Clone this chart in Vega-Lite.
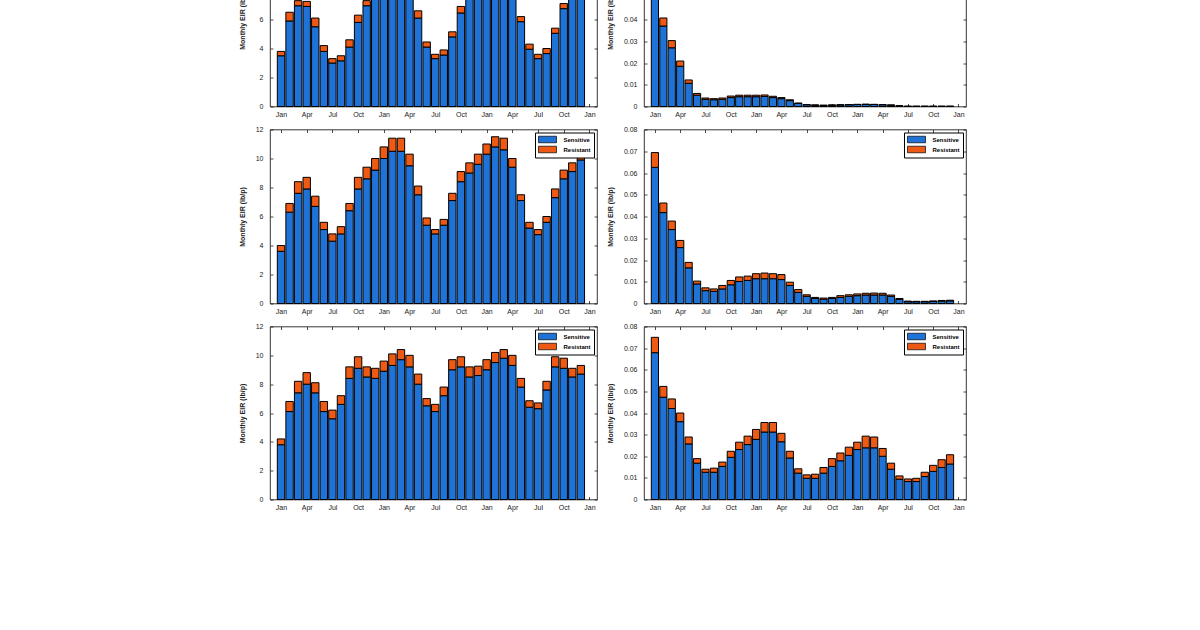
{
  "$schema": "https://vega.github.io/schema/vega-lite/v6.json",
  "background": "white",
  "padding": {"left": 237, "top": -72.5, "right": 0, "bottom": 0},
  "datasets": {
    "eir": [
      {"p":"L1","m":1,"Sensitive":3.5,"Resistant":0.3},{"p":"L1","m":2,"Sensitive":5.9,"Resistant":0.6},{"p":"L1","m":3,"Sensitive":6.95,"Resistant":0.35},{"p":"L1","m":4,"Sensitive":6.9,"Resistant":0.35},{"p":"L1","m":5,"Sensitive":5.5,"Resistant":0.6},{"p":"L1","m":6,"Sensitive":3.8,"Resistant":0.4},{"p":"L1","m":7,"Sensitive":3.0,"Resistant":0.3},{"p":"L1","m":8,"Sensitive":3.15,"Resistant":0.35},{"p":"L1","m":9,"Sensitive":4.1,"Resistant":0.5},{"p":"L1","m":10,"Sensitive":5.8,"Resistant":0.5},{"p":"L1","m":11,"Sensitive":6.95,"Resistant":0.35},{"p":"L1","m":12,"Sensitive":7.7,"Resistant":0.5},{"p":"L1","m":13,"Sensitive":8.4,"Resistant":0.6},{"p":"L1","m":14,"Sensitive":8.9,"Resistant":0.6},{"p":"L1","m":15,"Sensitive":9.0,"Resistant":0.6},{"p":"L1","m":16,"Sensitive":7.5,"Resistant":0.5},{"p":"L1","m":17,"Sensitive":6.1,"Resistant":0.5},{"p":"L1","m":18,"Sensitive":4.1,"Resistant":0.35},{"p":"L1","m":19,"Sensitive":3.3,"Resistant":0.3},{"p":"L1","m":20,"Sensitive":3.55,"Resistant":0.35},{"p":"L1","m":21,"Sensitive":4.8,"Resistant":0.35},{"p":"L1","m":22,"Sensitive":6.45,"Resistant":0.45},{"p":"L1","m":23,"Sensitive":7.5,"Resistant":0.5},{"p":"L1","m":24,"Sensitive":8.3,"Resistant":0.5},{"p":"L1","m":25,"Sensitive":8.8,"Resistant":0.6},{"p":"L1","m":26,"Sensitive":9.2,"Resistant":0.6},{"p":"L1","m":27,"Sensitive":9.1,"Resistant":0.6},{"p":"L1","m":28,"Sensitive":7.8,"Resistant":0.5},{"p":"L1","m":29,"Sensitive":5.85,"Resistant":0.35},{"p":"L1","m":30,"Sensitive":3.95,"Resistant":0.35},{"p":"L1","m":31,"Sensitive":3.3,"Resistant":0.3},{"p":"L1","m":32,"Sensitive":3.65,"Resistant":0.35},{"p":"L1","m":33,"Sensitive":5.05,"Resistant":0.35},{"p":"L1","m":34,"Sensitive":6.75,"Resistant":0.35},{"p":"L1","m":35,"Sensitive":7.8,"Resistant":0.4},{"p":"L1","m":36,"Sensitive":8.6,"Resistant":0.4},
      {"p":"L2","m":1,"Sensitive":3.6,"Resistant":0.4},{"p":"L2","m":2,"Sensitive":6.3,"Resistant":0.6},{"p":"L2","m":3,"Sensitive":7.6,"Resistant":0.8},{"p":"L2","m":4,"Sensitive":7.9,"Resistant":0.8},{"p":"L2","m":5,"Sensitive":6.7,"Resistant":0.7},{"p":"L2","m":6,"Sensitive":5.1,"Resistant":0.5},{"p":"L2","m":7,"Sensitive":4.3,"Resistant":0.5},{"p":"L2","m":8,"Sensitive":4.8,"Resistant":0.5},{"p":"L2","m":9,"Sensitive":6.4,"Resistant":0.5},{"p":"L2","m":10,"Sensitive":7.9,"Resistant":0.8},{"p":"L2","m":11,"Sensitive":8.6,"Resistant":0.8},{"p":"L2","m":12,"Sensitive":9.2,"Resistant":0.8},{"p":"L2","m":13,"Sensitive":10.0,"Resistant":0.8},{"p":"L2","m":14,"Sensitive":10.5,"Resistant":0.9},{"p":"L2","m":15,"Sensitive":10.5,"Resistant":0.9},{"p":"L2","m":16,"Sensitive":9.5,"Resistant":0.8},{"p":"L2","m":17,"Sensitive":7.5,"Resistant":0.6},{"p":"L2","m":18,"Sensitive":5.4,"Resistant":0.5},{"p":"L2","m":19,"Sensitive":4.8,"Resistant":0.3},{"p":"L2","m":20,"Sensitive":5.4,"Resistant":0.4},{"p":"L2","m":21,"Sensitive":7.1,"Resistant":0.5},{"p":"L2","m":22,"Sensitive":8.4,"Resistant":0.7},{"p":"L2","m":23,"Sensitive":9.0,"Resistant":0.7},{"p":"L2","m":24,"Sensitive":9.6,"Resistant":0.7},{"p":"L2","m":25,"Sensitive":10.3,"Resistant":0.7},{"p":"L2","m":26,"Sensitive":10.8,"Resistant":0.7},{"p":"L2","m":27,"Sensitive":10.6,"Resistant":0.8},{"p":"L2","m":28,"Sensitive":9.4,"Resistant":0.6},{"p":"L2","m":29,"Sensitive":7.1,"Resistant":0.4},{"p":"L2","m":30,"Sensitive":5.2,"Resistant":0.4},{"p":"L2","m":31,"Sensitive":4.75,"Resistant":0.35},{"p":"L2","m":32,"Sensitive":5.6,"Resistant":0.4},{"p":"L2","m":33,"Sensitive":7.3,"Resistant":0.6},{"p":"L2","m":34,"Sensitive":8.6,"Resistant":0.6},{"p":"L2","m":35,"Sensitive":9.1,"Resistant":0.6},{"p":"L2","m":36,"Sensitive":9.9,"Resistant":0.3},
      {"p":"L3","m":1,"Sensitive":3.8,"Resistant":0.4},{"p":"L3","m":2,"Sensitive":6.1,"Resistant":0.7},{"p":"L3","m":3,"Sensitive":7.4,"Resistant":0.8},{"p":"L3","m":4,"Sensitive":8.0,"Resistant":0.8},{"p":"L3","m":5,"Sensitive":7.4,"Resistant":0.7},{"p":"L3","m":6,"Sensitive":6.1,"Resistant":0.7},{"p":"L3","m":7,"Sensitive":5.6,"Resistant":0.6},{"p":"L3","m":8,"Sensitive":6.6,"Resistant":0.6},{"p":"L3","m":9,"Sensitive":8.4,"Resistant":0.8},{"p":"L3","m":10,"Sensitive":9.1,"Resistant":0.8},{"p":"L3","m":11,"Sensitive":8.5,"Resistant":0.7},{"p":"L3","m":12,"Sensitive":8.4,"Resistant":0.7},{"p":"L3","m":13,"Sensitive":8.9,"Resistant":0.7},{"p":"L3","m":14,"Sensitive":9.3,"Resistant":0.8},{"p":"L3","m":15,"Sensitive":9.7,"Resistant":0.7},{"p":"L3","m":16,"Sensitive":9.2,"Resistant":0.8},{"p":"L3","m":17,"Sensitive":8.0,"Resistant":0.7},{"p":"L3","m":18,"Sensitive":6.5,"Resistant":0.5},{"p":"L3","m":19,"Sensitive":6.1,"Resistant":0.5},{"p":"L3","m":20,"Sensitive":7.2,"Resistant":0.6},{"p":"L3","m":21,"Sensitive":9.0,"Resistant":0.7},{"p":"L3","m":22,"Sensitive":9.2,"Resistant":0.7},{"p":"L3","m":23,"Sensitive":8.5,"Resistant":0.7},{"p":"L3","m":24,"Sensitive":8.6,"Resistant":0.65},{"p":"L3","m":25,"Sensitive":9.0,"Resistant":0.7},{"p":"L3","m":26,"Sensitive":9.5,"Resistant":0.7},{"p":"L3","m":27,"Sensitive":9.8,"Resistant":0.6},{"p":"L3","m":28,"Sensitive":9.3,"Resistant":0.7},{"p":"L3","m":29,"Sensitive":7.8,"Resistant":0.6},{"p":"L3","m":30,"Sensitive":6.4,"Resistant":0.45},{"p":"L3","m":31,"Sensitive":6.3,"Resistant":0.4},{"p":"L3","m":32,"Sensitive":7.6,"Resistant":0.6},{"p":"L3","m":33,"Sensitive":9.2,"Resistant":0.7},{"p":"L3","m":34,"Sensitive":9.1,"Resistant":0.7},{"p":"L3","m":35,"Sensitive":8.5,"Resistant":0.6},{"p":"L3","m":36,"Sensitive":8.7,"Resistant":0.6},
      {"p":"R1","m":1,"Sensitive":0.057,"Resistant":0.006},{"p":"R1","m":2,"Sensitive":0.037,"Resistant":0.0037},{"p":"R1","m":3,"Sensitive":0.027,"Resistant":0.0033},{"p":"R1","m":4,"Sensitive":0.0185,"Resistant":0.0024},{"p":"R1","m":5,"Sensitive":0.0107,"Resistant":0.0015},{"p":"R1","m":6,"Sensitive":0.0052,"Resistant":0.0008},{"p":"R1","m":7,"Sensitive":0.0033,"Resistant":0.0006},{"p":"R1","m":8,"Sensitive":0.0031,"Resistant":0.0005},{"p":"R1","m":9,"Sensitive":0.0033,"Resistant":0.0006},{"p":"R1","m":10,"Sensitive":0.0041,"Resistant":0.0007},{"p":"R1","m":11,"Sensitive":0.0045,"Resistant":0.0007},{"p":"R1","m":12,"Sensitive":0.0045,"Resistant":0.0007},{"p":"R1","m":13,"Sensitive":0.0045,"Resistant":0.0007},{"p":"R1","m":14,"Sensitive":0.0046,"Resistant":0.0007},{"p":"R1","m":15,"Sensitive":0.0041,"Resistant":0.0006},{"p":"R1","m":16,"Sensitive":0.0036,"Resistant":0.0005},{"p":"R1","m":17,"Sensitive":0.0027,"Resistant":0.0004},{"p":"R1","m":18,"Sensitive":0.0014,"Resistant":0.0002},{"p":"R1","m":19,"Sensitive":0.0008,"Resistant":0.0001},{"p":"R1","m":20,"Sensitive":0.0006,"Resistant":0.0001},{"p":"R1","m":21,"Sensitive":0.0005,"Resistant":0.0001},{"p":"R1","m":22,"Sensitive":0.0006,"Resistant":0.0001},{"p":"R1","m":23,"Sensitive":0.0007,"Resistant":0.0001},{"p":"R1","m":24,"Sensitive":0.0008,"Resistant":0.0001},{"p":"R1","m":25,"Sensitive":0.0009,"Resistant":0.0001},{"p":"R1","m":26,"Sensitive":0.0009,"Resistant":0.0002},{"p":"R1","m":27,"Sensitive":0.0009,"Resistant":0.0001},{"p":"R1","m":28,"Sensitive":0.0008,"Resistant":0.0001},{"p":"R1","m":29,"Sensitive":0.0006,"Resistant":0.0001},{"p":"R1","m":30,"Sensitive":0.0003,"Resistant":0.0},{"p":"R1","m":31,"Sensitive":0.0001,"Resistant":0.0},{"p":"R1","m":32,"Sensitive":0.0001,"Resistant":0.0},{"p":"R1","m":33,"Sensitive":0.0001,"Resistant":0.0},{"p":"R1","m":34,"Sensitive":0.0001,"Resistant":0.0},{"p":"R1","m":35,"Sensitive":0.0001,"Resistant":0.0},{"p":"R1","m":36,"Sensitive":0.0001,"Resistant":0.0},
      {"p":"R2","m":1,"Sensitive":0.0626,"Resistant":0.0068},{"p":"R2","m":2,"Sensitive":0.0418,"Resistant":0.0044},{"p":"R2","m":3,"Sensitive":0.034,"Resistant":0.0039},{"p":"R2","m":4,"Sensitive":0.0257,"Resistant":0.0033},{"p":"R2","m":5,"Sensitive":0.0164,"Resistant":0.0025},{"p":"R2","m":6,"Sensitive":0.009,"Resistant":0.0013},{"p":"R2","m":7,"Sensitive":0.0059,"Resistant":0.0013},{"p":"R2","m":8,"Sensitive":0.0056,"Resistant":0.0011},{"p":"R2","m":9,"Sensitive":0.0067,"Resistant":0.0016},{"p":"R2","m":10,"Sensitive":0.0086,"Resistant":0.002},{"p":"R2","m":11,"Sensitive":0.0101,"Resistant":0.0021},{"p":"R2","m":12,"Sensitive":0.0106,"Resistant":0.002},{"p":"R2","m":13,"Sensitive":0.0114,"Resistant":0.0023},{"p":"R2","m":14,"Sensitive":0.0114,"Resistant":0.0026},{"p":"R2","m":15,"Sensitive":0.0114,"Resistant":0.0023},{"p":"R2","m":16,"Sensitive":0.011,"Resistant":0.0023},{"p":"R2","m":17,"Sensitive":0.0083,"Resistant":0.0015},{"p":"R2","m":18,"Sensitive":0.0051,"Resistant":0.0013},{"p":"R2","m":19,"Sensitive":0.0033,"Resistant":0.0007},{"p":"R2","m":20,"Sensitive":0.0023,"Resistant":0.0005},{"p":"R2","m":21,"Sensitive":0.002,"Resistant":0.0005},{"p":"R2","m":22,"Sensitive":0.0023,"Resistant":0.0005},{"p":"R2","m":23,"Sensitive":0.0028,"Resistant":0.0008},{"p":"R2","m":24,"Sensitive":0.0033,"Resistant":0.0007},{"p":"R2","m":25,"Sensitive":0.0036,"Resistant":0.0008},{"p":"R2","m":26,"Sensitive":0.0039,"Resistant":0.0008},{"p":"R2","m":27,"Sensitive":0.0039,"Resistant":0.0009},{"p":"R2","m":28,"Sensitive":0.0039,"Resistant":0.0008},{"p":"R2","m":29,"Sensitive":0.0033,"Resistant":0.0006},{"p":"R2","m":30,"Sensitive":0.0019,"Resistant":0.0004},{"p":"R2","m":31,"Sensitive":0.0008,"Resistant":0.0003},{"p":"R2","m":32,"Sensitive":0.0008,"Resistant":0.0002},{"p":"R2","m":33,"Sensitive":0.0008,"Resistant":0.0002},{"p":"R2","m":34,"Sensitive":0.0009,"Resistant":0.0003},{"p":"R2","m":35,"Sensitive":0.0011,"Resistant":0.0003},{"p":"R2","m":36,"Sensitive":0.0012,"Resistant":0.0003},
      {"p":"R3","m":1,"Sensitive":0.0679,"Resistant":0.0071},{"p":"R3","m":2,"Sensitive":0.0473,"Resistant":0.005},{"p":"R3","m":3,"Sensitive":0.0421,"Resistant":0.0044},{"p":"R3","m":4,"Sensitive":0.036,"Resistant":0.004},{"p":"R3","m":5,"Sensitive":0.0257,"Resistant":0.0032},{"p":"R3","m":6,"Sensitive":0.0168,"Resistant":0.0021},{"p":"R3","m":7,"Sensitive":0.0126,"Resistant":0.0014},{"p":"R3","m":8,"Sensitive":0.0126,"Resistant":0.0019},{"p":"R3","m":9,"Sensitive":0.0153,"Resistant":0.002},{"p":"R3","m":10,"Sensitive":0.0195,"Resistant":0.0028},{"p":"R3","m":11,"Sensitive":0.0231,"Resistant":0.0034},{"p":"R3","m":12,"Sensitive":0.0254,"Resistant":0.0039},{"p":"R3","m":13,"Sensitive":0.0278,"Resistant":0.0046},{"p":"R3","m":14,"Sensitive":0.0312,"Resistant":0.0044},{"p":"R3","m":15,"Sensitive":0.0312,"Resistant":0.0044},{"p":"R3","m":16,"Sensitive":0.0267,"Resistant":0.0039},{"p":"R3","m":17,"Sensitive":0.0192,"Resistant":0.0031},{"p":"R3","m":18,"Sensitive":0.0122,"Resistant":0.002},{"p":"R3","m":19,"Sensitive":0.0098,"Resistant":0.0016},{"p":"R3","m":20,"Sensitive":0.0098,"Resistant":0.0019},{"p":"R3","m":21,"Sensitive":0.0122,"Resistant":0.0026},{"p":"R3","m":22,"Sensitive":0.0153,"Resistant":0.0036},{"p":"R3","m":23,"Sensitive":0.0179,"Resistant":0.0036},{"p":"R3","m":24,"Sensitive":0.0204,"Resistant":0.0038},{"p":"R3","m":25,"Sensitive":0.0231,"Resistant":0.0034},{"p":"R3","m":26,"Sensitive":0.0239,"Resistant":0.0054},{"p":"R3","m":27,"Sensitive":0.0239,"Resistant":0.005},{"p":"R3","m":28,"Sensitive":0.02,"Resistant":0.0036},{"p":"R3","m":29,"Sensitive":0.014,"Resistant":0.0028},{"p":"R3","m":30,"Sensitive":0.0094,"Resistant":0.0015},{"p":"R3","m":31,"Sensitive":0.0083,"Resistant":0.0012},{"p":"R3","m":32,"Sensitive":0.0083,"Resistant":0.0015},{"p":"R3","m":33,"Sensitive":0.0106,"Resistant":0.002},{"p":"R3","m":34,"Sensitive":0.013,"Resistant":0.0028},{"p":"R3","m":35,"Sensitive":0.0148,"Resistant":0.0036},{"p":"R3","m":36,"Sensitive":0.0164,"Resistant":0.0043}
    ]
  },
  "data": {"name": "eir"},
  "bounds": "flush",
  "columns": 2,
  "spacing": {"row": 23, "column": 47},
  "concat": [
    {
      "width": 327, "height": 174,
      "transform": [{"filter": "datum.p == 'L1'"}, {"fold": ["Sensitive", "Resistant"], "as": ["type", "v"]}],
      "layer": [
        {"mark": {"type": "bar", "width": 7.4, "stroke": "black", "strokeWidth": 1},
         "encoding": {
           "x": {"field": "m", "type": "quantitative", "scale": {"domain": [0.3, 37.3], "nice": false, "zero": false}, "axis": {"orient": "bottom", "title": null, "values": [1,4,7,10,13,16,19,22,25,28,31,34,37], "labelExpr": "['Jan','Apr','Jul','Oct'][((datum.value-1)/3)%4]"}},
           "y": {"field": "v", "type": "quantitative", "stack": "zero", "scale": {"domain": [0, 12], "nice": false}, "axis": {"orient": "left", "title": "Monthly EIR (ib/p)", "values": [0,2,4,6,8,10,12]}},
           "color": {"field": "type", "type": "nominal", "scale": {"domain": ["Sensitive", "Resistant"], "range": ["#1f72d6", "#ee5a14"]}, "legend": {"orient": "top-right"}},
           "order": {"field": "type", "sort": "descending"}
         }},
        {"mark": {"type": "point", "opacity": 0},
         "encoding": {
           "x": {"field": "m", "type": "quantitative", "scale": {"domain": [0.3, 37.3], "nice": false, "zero": false}, "axis": {"orient": "top", "title": null, "labels": false, "values": [1,4,7,10,13,16,19,22,25,28,31,34,37]}},
           "y": {"field": "v", "type": "quantitative", "scale": {"domain": [0, 12], "nice": false}, "axis": {"orient": "right", "title": null, "labels": false, "values": [0,2,4,6,8,10,12]}}
         }}
      ],
      "resolve": {"axis": {"x": "independent", "y": "independent"}}
    },
    {
      "width": 322, "height": 174,
      "transform": [{"filter": "datum.p == 'R1'"}, {"fold": ["Sensitive", "Resistant"], "as": ["type", "v"]}],
      "layer": [
        {"mark": {"type": "bar", "width": 7.2, "stroke": "black", "strokeWidth": 1},
         "encoding": {
           "x": {"field": "m", "type": "quantitative", "scale": {"domain": [0.3, 37.3], "nice": false, "zero": false}, "axis": {"orient": "bottom", "title": null, "values": [1,4,7,10,13,16,19,22,25,28,31,34,37], "labelExpr": "['Jan','Apr','Jul','Oct'][((datum.value-1)/3)%4]"}},
           "y": {"field": "v", "type": "quantitative", "stack": "zero", "scale": {"domain": [0, 0.08], "nice": false}, "axis": {"orient": "left", "title": "Monthly EIR (ib/p)", "values": [0,0.01,0.02,0.03,0.04,0.05,0.06,0.07,0.08], "format": "~g"}},
           "color": {"field": "type", "type": "nominal", "scale": {"domain": ["Sensitive", "Resistant"], "range": ["#1f72d6", "#ee5a14"]}, "legend": {"orient": "top-right"}},
           "order": {"field": "type", "sort": "descending"}
         }},
        {"mark": {"type": "point", "opacity": 0},
         "encoding": {
           "x": {"field": "m", "type": "quantitative", "scale": {"domain": [0.3, 37.3], "nice": false, "zero": false}, "axis": {"orient": "top", "title": null, "labels": false, "values": [1,4,7,10,13,16,19,22,25,28,31,34,37]}},
           "y": {"field": "v", "type": "quantitative", "scale": {"domain": [0, 0.08], "nice": false}, "axis": {"orient": "right", "title": null, "labels": false, "values": [0,0.01,0.02,0.03,0.04,0.05,0.06,0.07,0.08]}}
         }}
      ],
      "resolve": {"axis": {"x": "independent", "y": "independent"}}
    },
    {
      "width": 327, "height": 174,
      "transform": [{"filter": "datum.p == 'L2'"}, {"fold": ["Sensitive", "Resistant"], "as": ["type", "v"]}],
      "layer": [
        {"mark": {"type": "bar", "width": 7.4, "stroke": "black", "strokeWidth": 1},
         "encoding": {
           "x": {"field": "m", "type": "quantitative", "scale": {"domain": [0.3, 37.3], "nice": false, "zero": false}, "axis": {"orient": "bottom", "title": null, "values": [1,4,7,10,13,16,19,22,25,28,31,34,37], "labelExpr": "['Jan','Apr','Jul','Oct'][((datum.value-1)/3)%4]"}},
           "y": {"field": "v", "type": "quantitative", "stack": "zero", "scale": {"domain": [0, 12], "nice": false}, "axis": {"orient": "left", "title": "Monthly EIR (ib/p)", "values": [0,2,4,6,8,10,12]}},
           "color": {"field": "type", "type": "nominal", "scale": {"domain": ["Sensitive", "Resistant"], "range": ["#1f72d6", "#ee5a14"]}, "legend": {"orient": "top-right"}},
           "order": {"field": "type", "sort": "descending"}
         }},
        {"mark": {"type": "point", "opacity": 0},
         "encoding": {
           "x": {"field": "m", "type": "quantitative", "scale": {"domain": [0.3, 37.3], "nice": false, "zero": false}, "axis": {"orient": "top", "title": null, "labels": false, "values": [1,4,7,10,13,16,19,22,25,28,31,34,37]}},
           "y": {"field": "v", "type": "quantitative", "scale": {"domain": [0, 12], "nice": false}, "axis": {"orient": "right", "title": null, "labels": false, "values": [0,2,4,6,8,10,12]}}
         }}
      ],
      "resolve": {"axis": {"x": "independent", "y": "independent"}}
    },
    {
      "width": 322, "height": 174,
      "transform": [{"filter": "datum.p == 'R2'"}, {"fold": ["Sensitive", "Resistant"], "as": ["type", "v"]}],
      "layer": [
        {"mark": {"type": "bar", "width": 7.2, "stroke": "black", "strokeWidth": 1},
         "encoding": {
           "x": {"field": "m", "type": "quantitative", "scale": {"domain": [0.3, 37.3], "nice": false, "zero": false}, "axis": {"orient": "bottom", "title": null, "values": [1,4,7,10,13,16,19,22,25,28,31,34,37], "labelExpr": "['Jan','Apr','Jul','Oct'][((datum.value-1)/3)%4]"}},
           "y": {"field": "v", "type": "quantitative", "stack": "zero", "scale": {"domain": [0, 0.08], "nice": false}, "axis": {"orient": "left", "title": "Monthly EIR (ib/p)", "values": [0,0.01,0.02,0.03,0.04,0.05,0.06,0.07,0.08], "format": "~g"}},
           "color": {"field": "type", "type": "nominal", "scale": {"domain": ["Sensitive", "Resistant"], "range": ["#1f72d6", "#ee5a14"]}, "legend": {"orient": "top-right"}},
           "order": {"field": "type", "sort": "descending"}
         }},
        {"mark": {"type": "point", "opacity": 0},
         "encoding": {
           "x": {"field": "m", "type": "quantitative", "scale": {"domain": [0.3, 37.3], "nice": false, "zero": false}, "axis": {"orient": "top", "title": null, "labels": false, "values": [1,4,7,10,13,16,19,22,25,28,31,34,37]}},
           "y": {"field": "v", "type": "quantitative", "scale": {"domain": [0, 0.08], "nice": false}, "axis": {"orient": "right", "title": null, "labels": false, "values": [0,0.01,0.02,0.03,0.04,0.05,0.06,0.07,0.08]}}
         }}
      ],
      "resolve": {"axis": {"x": "independent", "y": "independent"}}
    },
    {
      "width": 327, "height": 173,
      "transform": [{"filter": "datum.p == 'L3'"}, {"fold": ["Sensitive", "Resistant"], "as": ["type", "v"]}],
      "layer": [
        {"mark": {"type": "bar", "width": 7.4, "stroke": "black", "strokeWidth": 1},
         "encoding": {
           "x": {"field": "m", "type": "quantitative", "scale": {"domain": [0.3, 37.3], "nice": false, "zero": false}, "axis": {"orient": "bottom", "title": null, "values": [1,4,7,10,13,16,19,22,25,28,31,34,37], "labelExpr": "['Jan','Apr','Jul','Oct'][((datum.value-1)/3)%4]"}},
           "y": {"field": "v", "type": "quantitative", "stack": "zero", "scale": {"domain": [0, 12], "nice": false}, "axis": {"orient": "left", "title": "Monthly EIR (ib/p)", "values": [0,2,4,6,8,10,12]}},
           "color": {"field": "type", "type": "nominal", "scale": {"domain": ["Sensitive", "Resistant"], "range": ["#1f72d6", "#ee5a14"]}, "legend": {"orient": "top-right"}},
           "order": {"field": "type", "sort": "descending"}
         }},
        {"mark": {"type": "point", "opacity": 0},
         "encoding": {
           "x": {"field": "m", "type": "quantitative", "scale": {"domain": [0.3, 37.3], "nice": false, "zero": false}, "axis": {"orient": "top", "title": null, "labels": false, "values": [1,4,7,10,13,16,19,22,25,28,31,34,37]}},
           "y": {"field": "v", "type": "quantitative", "scale": {"domain": [0, 12], "nice": false}, "axis": {"orient": "right", "title": null, "labels": false, "values": [0,2,4,6,8,10,12]}}
         }}
      ],
      "resolve": {"axis": {"x": "independent", "y": "independent"}}
    },
    {
      "width": 322, "height": 173,
      "transform": [{"filter": "datum.p == 'R3'"}, {"fold": ["Sensitive", "Resistant"], "as": ["type", "v"]}],
      "layer": [
        {"mark": {"type": "bar", "width": 7.2, "stroke": "black", "strokeWidth": 1},
         "encoding": {
           "x": {"field": "m", "type": "quantitative", "scale": {"domain": [0.3, 37.3], "nice": false, "zero": false}, "axis": {"orient": "bottom", "title": null, "values": [1,4,7,10,13,16,19,22,25,28,31,34,37], "labelExpr": "['Jan','Apr','Jul','Oct'][((datum.value-1)/3)%4]"}},
           "y": {"field": "v", "type": "quantitative", "stack": "zero", "scale": {"domain": [0, 0.08], "nice": false}, "axis": {"orient": "left", "title": "Monthly EIR (ib/p)", "values": [0,0.01,0.02,0.03,0.04,0.05,0.06,0.07,0.08], "format": "~g"}},
           "color": {"field": "type", "type": "nominal", "scale": {"domain": ["Sensitive", "Resistant"], "range": ["#1f72d6", "#ee5a14"]}, "legend": {"orient": "top-right"}},
           "order": {"field": "type", "sort": "descending"}
         }},
        {"mark": {"type": "point", "opacity": 0},
         "encoding": {
           "x": {"field": "m", "type": "quantitative", "scale": {"domain": [0.3, 37.3], "nice": false, "zero": false}, "axis": {"orient": "top", "title": null, "labels": false, "values": [1,4,7,10,13,16,19,22,25,28,31,34,37]}},
           "y": {"field": "v", "type": "quantitative", "scale": {"domain": [0, 0.08], "nice": false}, "axis": {"orient": "right", "title": null, "labels": false, "values": [0,0.01,0.02,0.03,0.04,0.05,0.06,0.07,0.08]}}
         }}
      ],
      "resolve": {"axis": {"x": "independent", "y": "independent"}}
    }
  ],
  "resolve": {"scale": {"x": "independent", "y": "independent", "color": "independent"}, "legend": {"color": "independent"}},
  "config": {
    "font": "Liberation Sans",
    "view": {"stroke": "black", "strokeWidth": 0.8},
    "axis": {"labelFontSize": 7, "labelColor": "#222222", "titleFontSize": 7, "titleColor": "#222222", "titleFontWeight": "bold", "domain": false, "grid": false, "tickColor": "#000000", "tickSize": -3, "tickWidth": 0.7, "titlePadding": 10, "labelFlush": false, "labelOverlap": false},
    "axisX": {"labelPadding": 7},
    "axisY": {"labelPadding": 10},
    "legend": {"title": null, "offset": 3, "padding": 3, "fillColor": "white", "strokeColor": "black", "symbolType": "M-2.57,-0.93H2.57V0.93H-2.57Z", "symbolSize": 49, "symbolOffset": 5.5, "symbolStrokeColor": "black", "symbolStrokeWidth": 0.7, "labelFontSize": 6, "labelFontWeight": "bold", "labelColor": "#000000", "rowPadding": 0, "labelOffset": 12, "symbolOpacity": 1}
  }
}
